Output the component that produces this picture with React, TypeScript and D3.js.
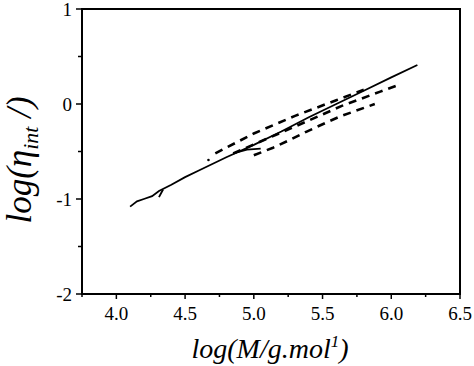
import React from "react";
import * as d3 from "d3";

const xTicks = [4.0, 4.5, 5.0, 5.5, 6.0, 6.5];
const xMinorTicks = [3.75, 4.25, 4.75, 5.25, 5.75, 6.25];
const yTicks = [-2, -1, 0, 1];
const yMinorTicks = [-1.5, -0.5, 0.5];

const solidX = [4.10, 4.15, 4.20, 4.26, 4.31, 4.40, 4.50, 4.60, 4.80, 5.00, 5.20, 5.40, 5.60, 5.80, 6.00, 6.19];
const solidY = [-1.08, -1.025, -1.0, -0.97, -0.915, -0.85, -0.77, -0.70, -0.56, -0.43, -0.29, -0.14, 0.0, 0.14, 0.28, 0.41];

const hookX = [4.31, 4.325, 4.34];
const hookY = [-0.98, -0.94, -0.90];

const shortX = [4.85, 4.95, 5.05];
const shortY = [-0.52, -0.48, -0.47];

const dash1X = [4.72, 5.0, 5.3, 5.6, 5.8];
const dash1Y = [-0.52, -0.31, -0.125, 0.04, 0.15];
const dotX = [4.67];
const dotY = [-0.59];

const dash2X = [4.85, 5.2, 5.5, 5.64, 5.77, 5.92, 6.05];
const dash2Y = [-0.52, -0.30, -0.11, -0.02, 0.05, 0.13, 0.2];

const dash3X = [5.0, 5.14, 5.26, 5.385, 5.52, 5.63, 5.88];
const dash3Y = [-0.54, -0.46, -0.38, -0.29, -0.2, -0.13, 0.0];

const W = 474;
const H = 366;
const L = 82, R = 460, T = 9, B = 294;

export default function App() {
  const x = d3.scaleLinear().domain([3.75, 6.5]).range([L, R]);
  const y = d3.scaleLinear().domain([-2, 1]).range([B, T]);
  const mk = (xs: number[], ys: number[]) =>
    d3.line<[number, number]>().x((d) => x(d[0])).y((d) => y(d[1]))(xs.map((v, i) => [v, ys[i]]) as [number, number][]) || "";
  return (
    <svg
      width={W}
      height={H}
      fontFamily="Liberation Serif"
      style={{ position: "absolute", left: 0, top: 0, fontFamily: '"Liberation Serif"' }}
    >
      <rect x={0} y={0} width={W} height={H} fill="#fff" />
      <rect x={L} y={T} width={R - L} height={B - T} fill="none" stroke="#000" strokeWidth={2} />
      {xTicks.map((t) => (
        <g key={"xt" + t}>
          <line x1={x(t)} x2={x(t)} y1={B} y2={B + 5} stroke="#000" strokeWidth={1.5} />
          <text x={x(t)} y={320} textAnchor="middle" fontFamily="Liberation Serif" fontSize={19} fill="#000">
            {t.toFixed(1)}
          </text>
        </g>
      ))}
      {xMinorTicks.map((t) => (
        <line key={"xm" + t} x1={x(t)} x2={x(t)} y1={B} y2={B + 3} stroke="#000" strokeWidth={1.5} />
      ))}
      {yTicks.map((t) => (
        <g key={"yt" + t}>
          <line x1={L - 6} x2={L} y1={y(t)} y2={y(t)} stroke="#000" strokeWidth={1.5} />
          <text x={72} y={y(t) + 6.5} textAnchor="end" fontFamily="Liberation Serif" fontSize={19} fill="#000">
            {String(t)}
          </text>
        </g>
      ))}
      {yMinorTicks.map((t) => (
        <line key={"ym" + t} x1={L - 4} x2={L} y1={y(t)} y2={y(t)} stroke="#000" strokeWidth={1.5} />
      ))}
      <g fill="none" stroke="#000" strokeLinecap="butt">
        <path d={mk(solidX, solidY)} strokeWidth={1.8} />
        <path d={mk(hookX, hookY)} strokeWidth={1.8} />
        <path d={mk(shortX, shortY)} strokeWidth={1.8} />
        <path d={mk(dash1X, dash1Y)} strokeWidth={2.6} strokeDasharray="8 6" />
        <path d={mk(dash2X, dash2Y)} strokeWidth={2.6} strokeDasharray="8 6" />
        <path d={mk(dash3X, dash3Y)} strokeWidth={2.6} strokeDasharray="8 6" />
      </g>
      {dotX.map((v, i) => (
        <circle key={"d" + i} cx={x(v)} cy={y(dotY[i])} r={1.3} fill="#000" />
      ))}
      <text x={270} y={358} textAnchor="middle" fontFamily="Liberation Serif" fontStyle="italic" fontSize={28} fill="#000">
        log(M/g.mol<tspan fontSize={17} dy={-11}>1</tspan><tspan dy={11}>)</tspan>
      </text>
      <text
        transform="translate(31, 160) rotate(-90)"
        textAnchor="middle"
        fontFamily="Liberation Serif"
        fontStyle="italic"
        fontSize={35}
        fill="#000"
      >
        log(η<tspan fontSize={22} dy={7}>int</tspan><tspan dy={-7}> /)</tspan>
      </text>
    </svg>
  );
}
